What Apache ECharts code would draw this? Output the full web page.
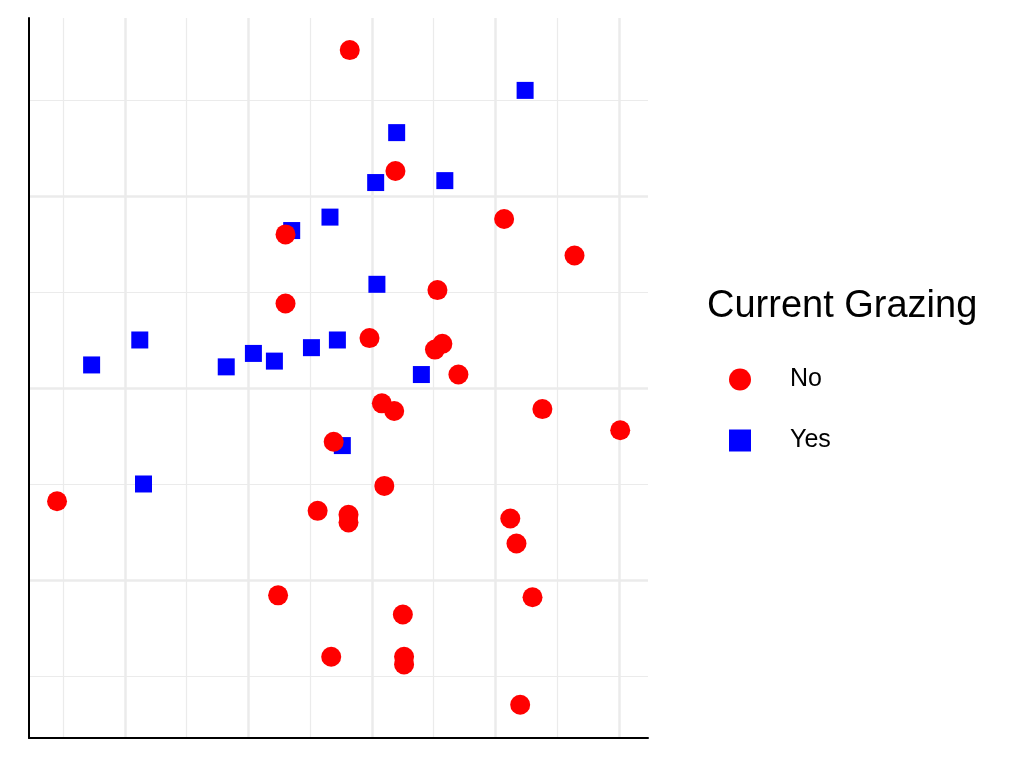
<!DOCTYPE html>
<html><head><meta charset="utf-8">
<script src="https://cdn.jsdelivr.net/npm/echarts@6/dist/echarts.min.js"></script>
<style>html,body{margin:0;padding:0;background:#fff}#c{width:1024px;height:768px}</style>
</head><body><div id="c"></div>
<script>
const noPts = [[1.82,1.76],[2.19,1.13],[3.07,0.88],[1.30,0.80],[3.64,0.69],[2.53,0.51],[1.30,0.44],[1.98,0.26],[2.57,0.23],[2.51,0.20],[2.70,0.07],[2.08,-0.08],[2.18,-0.12],[3.38,-0.11],[4.01,-0.22],[1.69,-0.28],[2.10,-0.51],[-0.55,-0.59],[1.56,-0.64],[1.81,-0.66],[1.81,-0.70],[3.12,-0.68],[3.17,-0.81],[1.24,-1.08],[3.30,-1.09],[2.25,-1.18],[1.67,-1.40],[2.26,-1.40],[2.26,-1.44],[3.20,-1.65]];
const yesPts = [[3.24,1.55],[2.20,1.33],[2.03,1.07],[2.59,1.08],[1.66,0.89],[1.35,0.82],[2.04,0.54],[0.12,0.25],[-0.27,0.12],[1.04,0.18],[0.82,0.11],[1.21,0.14],[1.51,0.21],[1.72,0.25],[2.40,0.07],[1.76,-0.30],[0.15,-0.50]];
const xMajor = [0,1,2,3,4], xMinor = [-0.5,0.5,1.5,2.5,3.5];
const yMajor = [-1,0,1], yMinor = [-1.5,-0.5,0.5,1.5];
const gl = [];
xMajor.forEach(v=>gl.push({xAxis:v,lineStyle:{width:2.5}}));
xMinor.forEach(v=>gl.push({xAxis:v,lineStyle:{width:1.2}}));
yMajor.forEach(v=>gl.push({yAxis:v,lineStyle:{width:2.5}}));
yMinor.forEach(v=>gl.push({yAxis:v,lineStyle:{width:1.2}}));
const chart = echarts.init(document.getElementById('c'));
chart.setOption({
  animation:false,
  grid:{left:29,right:376,top:18,bottom:30},
  xAxis:{type:'value',min:-0.777,max:4.235,axisLabel:{show:false},axisTick:{show:false},splitLine:{show:false},axisLine:{onZero:false,lineStyle:{color:'#000',width:2}}},
  yAxis:{type:'value',min:-1.823,max:1.927,axisLabel:{show:false},axisTick:{show:false},splitLine:{show:false},axisLine:{onZero:false,lineStyle:{color:'#000',width:2}}},
  graphic:[{type:'text',left:707,top:288,style:{text:'Current Grazing',font:'38px "Liberation Sans", Arial, sans-serif',fill:'#000'}}],
  legend:{data:['No','Yes'],orient:'vertical',left:724,top:362,itemGap:36,itemWidth:22,itemHeight:22,
    textStyle:{fontSize:25,color:'#000',fontFamily:'"Liberation Sans", Arial, sans-serif',padding:[0,0,0,34]}},
  series:[
    {type:'scatter',name:'grid',data:[],silent:true,z:0,zlevel:0,markLine:{silent:true,z:0,symbol:'none',label:{show:false},animation:false,lineStyle:{color:'#ebebeb',type:'solid'},data:gl}},
    {type:'scatter',name:'No',data:noPts,symbol:'circle',symbolSize:20,itemStyle:{color:'#ff0000',opacity:1},zlevel:1,z:3},
    {type:'scatter',name:'Yes',data:yesPts,symbol:'rect',symbolSize:17,itemStyle:{color:'#0000ff',opacity:1},zlevel:1,z:2}
  ]
});
</script></body></html>
